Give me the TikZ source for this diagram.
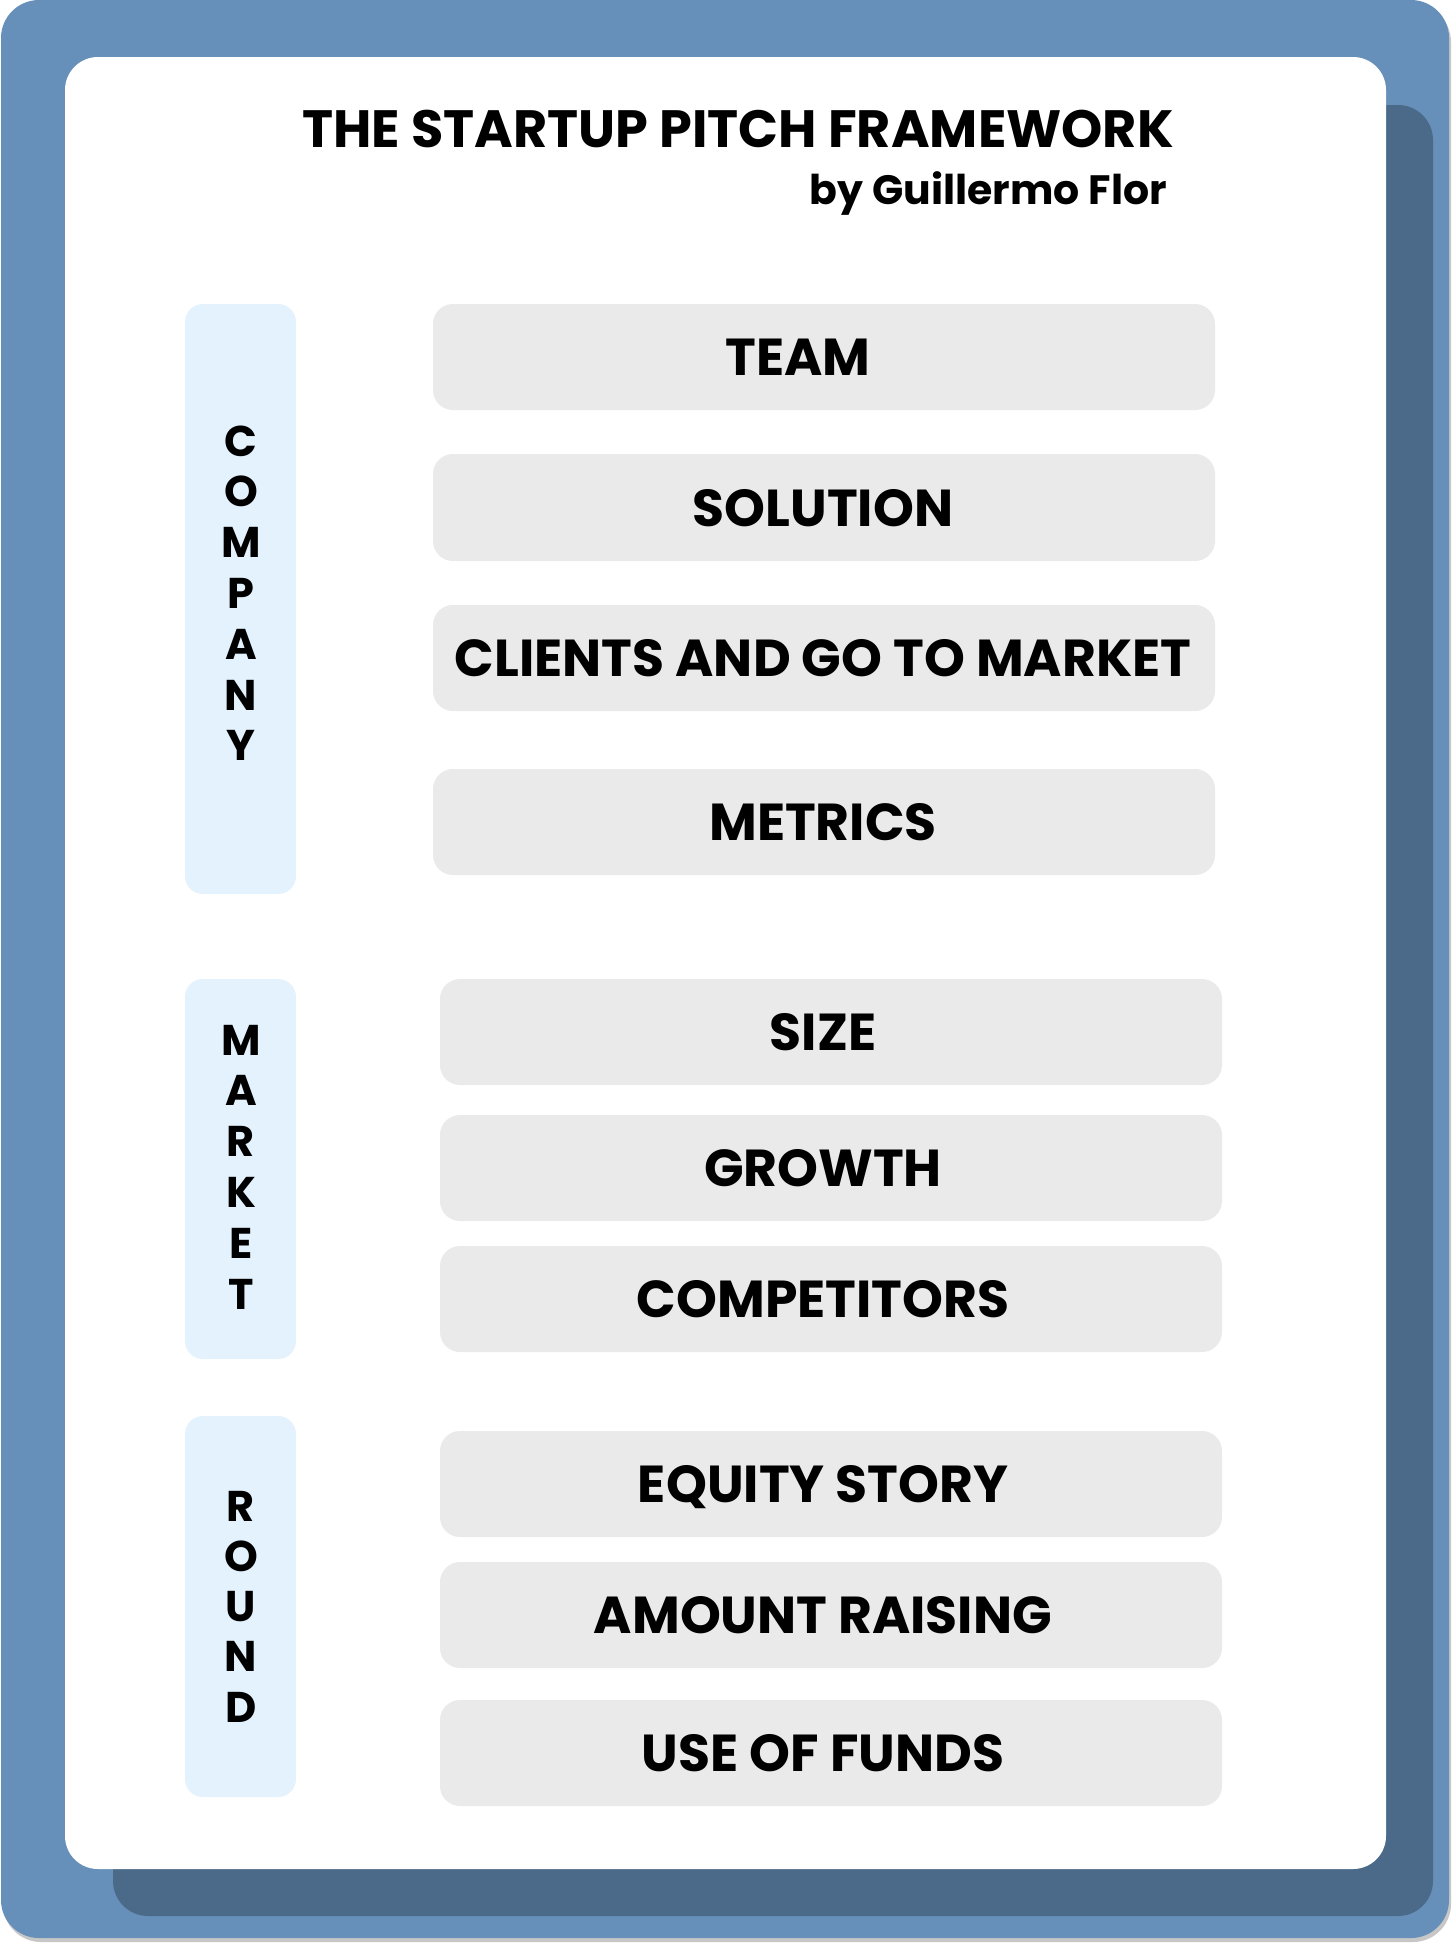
\documentclass[tikz,border=0pt]{standalone}
\usepackage{fontspec}
\setmainfont{Poppins}
\definecolor{outerblue}{HTML}{6690B9}
\definecolor{darkblue}{HTML}{4B6A89}
\definecolor{sidebg}{HTML}{E3F2FD}
\definecolor{boxgray}{HTML}{EAEAEA}
\begin{document}
\begin{tikzpicture}[x=1pt,y=-1pt,
  graybox/.style={rounded corners=20pt, fill=boxgray},
  sidebox/.style={rounded corners=18pt, fill=sidebg},
  itemtext/.style={font=\bfseries\fontsize{52}{60}\selectfont, text=black, anchor=base, inner sep=0pt},
  sidelet/.style={font=\bfseries\fontsize{43}{50}\selectfont, text=black, anchor=base, inner sep=0pt}]
\useasboundingbox (0,0) rectangle (1456,1947);
\fill[white] (0,0) rectangle (1456,1947);
% frame
\fill[black!22, rounded corners=38pt] (3,4) rectangle (1451,1942);
\fill[outerblue, rounded corners=38pt] (1,0) rectangle (1449,1938);
\fill[darkblue, rounded corners=35pt] (113,105) rectangle (1433,1916);
\fill[white, rounded corners=33pt] (65,57) rectangle (1386,1869);
% title
\node[font=\bfseries\fontsize{52.5}{60}\selectfont, anchor=base, inner sep=0pt] (title) at (738,147) {THE STARTUP PITCH FRAMEWORK};
\node[font=\bfseries\fontsize{41}{46}\selectfont, anchor=base east, inner sep=0pt] (subtitle) at (1167,204) {by Guillermo Flor};
% side boxes
\fill[sidebox] (185,304) rectangle (296,894);
\fill[sidebox] (185,979) rectangle (296,1359);
\fill[sidebox] (185,1416) rectangle (296,1797);
\foreach \l [count=\i from 0] in {C,O,M,P,A,N,Y}
  \node[sidelet] (company\i) at (241,{441+50.8*\i+15}) {\l};
\foreach \l [count=\i from 0] in {M,A,R,K,E,T}
  \node[sidelet] (market\i) at (241,{1040+50.8*\i+15}) {\l};
\foreach \l [count=\i from 0] in {R,O,U,N,D}
  \node[sidelet] (round\i) at (241,{1506+50.25*\i+15}) {\l};
% company boxes
\foreach \t/\b/\lab/\tx [count=\i] in {304/410/TEAM/798, 454/561/SOLUTION/823, 605/711/CLIENTS AND GO TO MARKET/823, 769/875/METRICS/823}{
  \fill[graybox] (433,\t) rectangle (1215,\b);
  \node[itemtext] (cbox\i) at (\tx,{(\t+\b)/2+18.5}) {\lab};
}
% market and round boxes
\foreach \t/\b/\lab [count=\i] in {979/1085/SIZE, 1115/1221/GROWTH, 1246/1352/COMPETITORS, 1431/1537/EQUITY STORY, 1562/1668/AMOUNT RAISING, 1700/1806/USE OF FUNDS}{
  \fill[graybox] (440,\t) rectangle (1222,\b);
  \node[itemtext] (mbox\i) at (823,{(\t+\b)/2+18.5}) {\lab};
}
\end{tikzpicture}
\end{document}
